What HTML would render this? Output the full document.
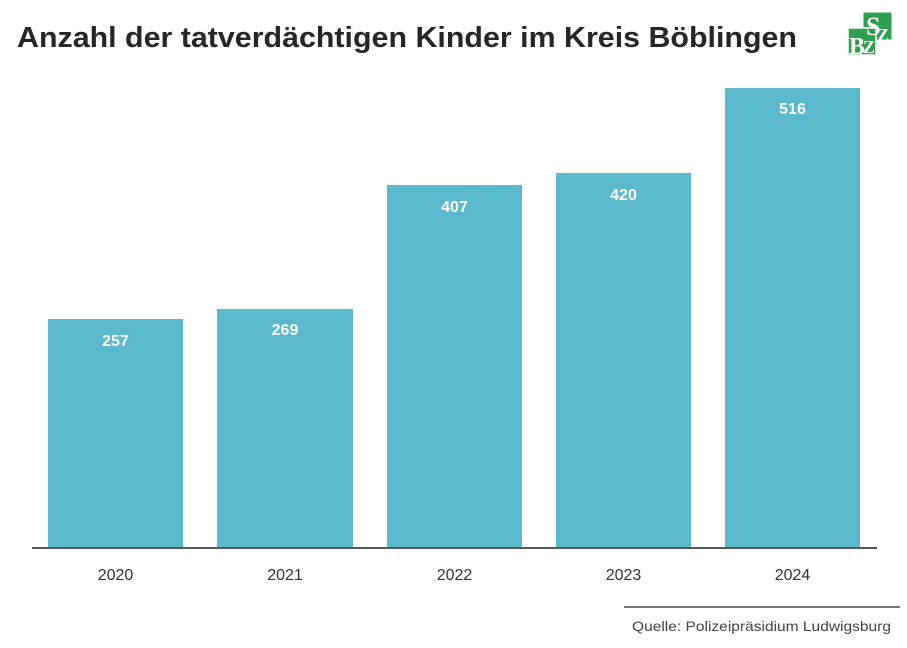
<!DOCTYPE html>
<html>
<head>
<meta charset="utf-8">
<style>
  html,body{margin:0;padding:0;background:#fff;}
  svg{display:block;}
</style>
</head>
<body>
<svg width="907" height="648" viewBox="0 0 907 648" xmlns="http://www.w3.org/2000/svg">
  <rect width="907" height="648" fill="#fff"/>
  <!-- Title -->
  <text x="17" y="47" font-family="Liberation Sans, Arial, sans-serif" font-weight="bold" font-size="28.5" fill="#262626" textLength="780" lengthAdjust="spacingAndGlyphs">Anzahl der tatverdächtigen Kinder im Kreis Böblingen</text>

  <!-- Logo -->
  <g>
    <rect x="863" y="12" width="29" height="28" fill="#2e9e4f" stroke="#fff" stroke-width="1"/>
    <rect x="848" y="28" width="28" height="27" fill="#2e9e4f" stroke="#fff" stroke-width="1.5"/>
    <text x="866" y="35" font-family="Liberation Serif, serif" font-weight="bold" font-size="26" fill="#fff">S</text>
    <text x="877" y="41" font-family="Liberation Serif, serif" font-weight="bold" font-size="18" fill="#fff">Z</text>
    <text x="849" y="54" font-family="Liberation Serif, serif" font-weight="bold" font-size="24" fill="#fff">B</text>
    <text x="863" y="53" font-family="Liberation Serif, serif" font-weight="bold" font-size="18" fill="#fff">Z</text>
  </g>

  <!-- Bars -->
  <g fill="#5bb9cd">
    <rect x="48" y="319" width="135" height="228"/>
    <rect x="217" y="309" width="136" height="238"/>
    <rect x="387" y="185" width="135" height="362"/>
    <rect x="556" y="173" width="135" height="374"/>
    <rect x="725" y="88" width="135" height="459"/>
  </g>

  <!-- Value labels -->
  <g font-family="Liberation Sans, Arial, sans-serif" font-weight="bold" font-size="16" fill="#fff" text-anchor="middle">
    <text x="115.5" y="346">257</text>
    <text x="285" y="335">269</text>
    <text x="454.5" y="212">407</text>
    <text x="623.5" y="200">420</text>
    <text x="792.5" y="114">516</text>
  </g>

  <!-- Axis -->
  <line x1="32" y1="548" x2="877" y2="548" stroke="#222" stroke-width="1.5"/>

  <!-- Year labels -->
  <g font-family="Liberation Sans, Arial, sans-serif" font-size="16" fill="#333" text-anchor="middle">
    <text x="115.5" y="580">2020</text>
    <text x="285" y="580">2021</text>
    <text x="454.5" y="580">2022</text>
    <text x="623.5" y="580">2023</text>
    <text x="792.5" y="580">2024</text>
  </g>

  <!-- Source -->
  <line x1="624" y1="607" x2="900" y2="607" stroke="#222" stroke-width="1.2"/>
  <text x="632" y="631" font-family="Liberation Sans, Arial, sans-serif" font-size="14" fill="#444" textLength="259" lengthAdjust="spacingAndGlyphs">Quelle: Polizeipräsidium Ludwigsburg</text>
</svg>
</body>
</html>
